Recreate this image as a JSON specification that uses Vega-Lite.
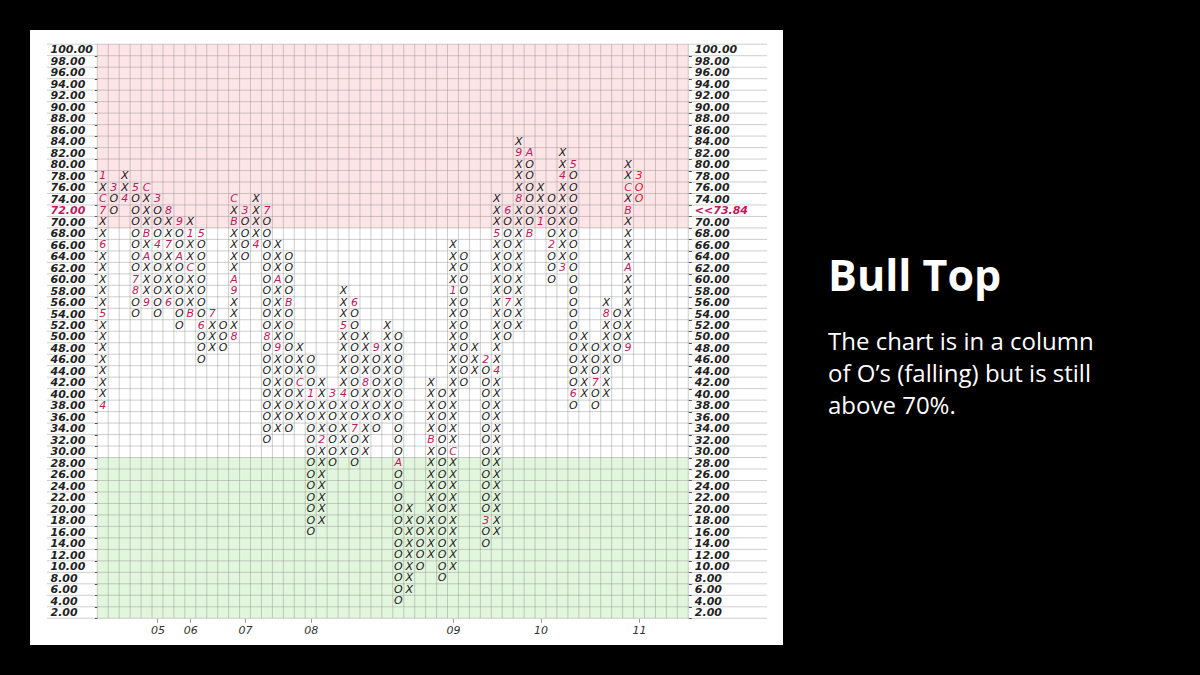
{
"$schema":"https://vega.github.io/schema/vega-lite/v6.json",
"width":753,"height":615,
"autosize":{"type":"none"},
"padding":{"left":30,"top":30,"right":417,"bottom":30},
"background":"black",
"config":{"view":{"fill":"white","stroke":null}},
"title":{"text":"Bull Top","subtitle":["The chart is in a column","of O’s (falling) but is still","above 70%."],"anchor":"start","frame":"group","orient":"top","offset":0,"dx":798,"dy":389,"baseline":"top","color":"white","font":"Open Sans","fontSize":43,"fontWeight":"bold","subtitleColor":"white","subtitleFont":"Open Sans","subtitleFontSize":24,"subtitleLineHeight":32,"subtitlePadding":31},
"datasets":{
"zones":[{"z":"bull","lo":69,"hi":101},{"z":"bear","lo":1,"hi":29}],
"hl":[{"b":1},{"b":3},{"b":5},{"b":7},{"b":9},{"b":11},{"b":13},{"b":15},{"b":17},{"b":19},{"b":21},{"b":23},{"b":25},{"b":27},{"b":29},{"b":31},{"b":33},{"b":35},{"b":37},{"b":39},{"b":41},{"b":43},{"b":45},{"b":47},{"b":49},{"b":51},{"b":53},{"b":55},{"b":57},{"b":59},{"b":61},{"b":63},{"b":65},{"b":67},{"b":69},{"b":71},{"b":73},{"b":75},{"b":77},{"b":79},{"b":81},{"b":83},{"b":85},{"b":87},{"b":89},{"b":91},{"b":93},{"b":95},{"b":97},{"b":99},{"b":101}],
"vl":[{"g":-0.5},{"g":0.5},{"g":1.5},{"g":2.5},{"g":3.5},{"g":4.5},{"g":5.5},{"g":6.5},{"g":7.5},{"g":8.5},{"g":9.5},{"g":10.5},{"g":11.5},{"g":12.5},{"g":13.5},{"g":14.5},{"g":15.5},{"g":16.5},{"g":17.5},{"g":18.5},{"g":19.5},{"g":20.5},{"g":21.5},{"g":22.5},{"g":23.5},{"g":24.5},{"g":25.5},{"g":26.5},{"g":27.5},{"g":28.5},{"g":29.5},{"g":30.5},{"g":31.5},{"g":32.5},{"g":33.5},{"g":34.5},{"g":35.5},{"g":36.5},{"g":37.5},{"g":38.5},{"g":39.5},{"g":40.5},{"g":41.5},{"g":42.5},{"g":43.5},{"g":44.5},{"g":45.5},{"g":46.5},{"g":47.5},{"g":48.5},{"g":49.5},{"g":50.5},{"g":51.5},{"g":52.5},{"g":53.5}],
"pf":[
{"c":0,"v":38,"s":"4"},{"c":0,"v":40,"s":"X"},{"c":0,"v":42,"s":"X"},{"c":0,"v":44,"s":"X"},{"c":0,"v":46,"s":"X"},{"c":0,"v":48,"s":"X"},{"c":0,"v":50,"s":"X"},{"c":0,"v":52,"s":"X"},{"c":0,"v":54,"s":"5"},{"c":0,"v":56,"s":"X"},{"c":0,"v":58,"s":"X"},{"c":0,"v":60,"s":"X"},{"c":0,"v":62,"s":"X"},{"c":0,"v":64,"s":"X"},{"c":0,"v":66,"s":"6"},{"c":0,"v":68,"s":"X"},{"c":0,"v":70,"s":"X"},{"c":0,"v":72,"s":"7"},{"c":0,"v":74,"s":"C"},{"c":0,"v":76,"s":"X"},{"c":0,"v":78,"s":"1"},
{"c":1,"v":72,"s":"O"},{"c":1,"v":74,"s":"O"},{"c":1,"v":76,"s":"3"},
{"c":2,"v":74,"s":"4"},{"c":2,"v":76,"s":"X"},{"c":2,"v":78,"s":"X"},
{"c":3,"v":54,"s":"O"},{"c":3,"v":56,"s":"O"},{"c":3,"v":58,"s":"8"},{"c":3,"v":60,"s":"7"},{"c":3,"v":62,"s":"O"},{"c":3,"v":64,"s":"O"},{"c":3,"v":66,"s":"O"},{"c":3,"v":68,"s":"O"},{"c":3,"v":70,"s":"O"},{"c":3,"v":72,"s":"O"},{"c":3,"v":74,"s":"O"},{"c":3,"v":76,"s":"5"},
{"c":4,"v":56,"s":"9"},{"c":4,"v":58,"s":"X"},{"c":4,"v":60,"s":"X"},{"c":4,"v":62,"s":"X"},{"c":4,"v":64,"s":"A"},{"c":4,"v":66,"s":"X"},{"c":4,"v":68,"s":"B"},{"c":4,"v":70,"s":"X"},{"c":4,"v":72,"s":"X"},{"c":4,"v":74,"s":"X"},{"c":4,"v":76,"s":"C"},
{"c":5,"v":54,"s":"O"},{"c":5,"v":56,"s":"O"},{"c":5,"v":58,"s":"O"},{"c":5,"v":60,"s":"O"},{"c":5,"v":62,"s":"O"},{"c":5,"v":64,"s":"O"},{"c":5,"v":66,"s":"4"},{"c":5,"v":68,"s":"O"},{"c":5,"v":70,"s":"O"},{"c":5,"v":72,"s":"O"},{"c":5,"v":74,"s":"3"},
{"c":6,"v":56,"s":"6"},{"c":6,"v":58,"s":"X"},{"c":6,"v":60,"s":"X"},{"c":6,"v":62,"s":"X"},{"c":6,"v":64,"s":"X"},{"c":6,"v":66,"s":"7"},{"c":6,"v":68,"s":"X"},{"c":6,"v":70,"s":"X"},{"c":6,"v":72,"s":"8"},
{"c":7,"v":52,"s":"O"},{"c":7,"v":54,"s":"O"},{"c":7,"v":56,"s":"O"},{"c":7,"v":58,"s":"O"},{"c":7,"v":60,"s":"O"},{"c":7,"v":62,"s":"O"},{"c":7,"v":64,"s":"A"},{"c":7,"v":66,"s":"O"},{"c":7,"v":68,"s":"O"},{"c":7,"v":70,"s":"9"},
{"c":8,"v":54,"s":"B"},{"c":8,"v":56,"s":"X"},{"c":8,"v":58,"s":"X"},{"c":8,"v":60,"s":"X"},{"c":8,"v":62,"s":"C"},{"c":8,"v":64,"s":"X"},{"c":8,"v":66,"s":"X"},{"c":8,"v":68,"s":"1"},{"c":8,"v":70,"s":"X"},
{"c":9,"v":46,"s":"O"},{"c":9,"v":48,"s":"O"},{"c":9,"v":50,"s":"O"},{"c":9,"v":52,"s":"6"},{"c":9,"v":54,"s":"O"},{"c":9,"v":56,"s":"O"},{"c":9,"v":58,"s":"O"},{"c":9,"v":60,"s":"O"},{"c":9,"v":62,"s":"O"},{"c":9,"v":64,"s":"O"},{"c":9,"v":66,"s":"O"},{"c":9,"v":68,"s":"5"},
{"c":10,"v":48,"s":"X"},{"c":10,"v":50,"s":"X"},{"c":10,"v":52,"s":"X"},{"c":10,"v":54,"s":"7"},
{"c":11,"v":48,"s":"O"},{"c":11,"v":50,"s":"O"},{"c":11,"v":52,"s":"O"},
{"c":12,"v":50,"s":"8"},{"c":12,"v":52,"s":"X"},{"c":12,"v":54,"s":"X"},{"c":12,"v":56,"s":"X"},{"c":12,"v":58,"s":"9"},{"c":12,"v":60,"s":"A"},{"c":12,"v":62,"s":"X"},{"c":12,"v":64,"s":"X"},{"c":12,"v":66,"s":"X"},{"c":12,"v":68,"s":"X"},{"c":12,"v":70,"s":"B"},{"c":12,"v":72,"s":"X"},{"c":12,"v":74,"s":"C"},
{"c":13,"v":64,"s":"O"},{"c":13,"v":66,"s":"O"},{"c":13,"v":68,"s":"O"},{"c":13,"v":70,"s":"O"},{"c":13,"v":72,"s":"3"},
{"c":14,"v":66,"s":"4"},{"c":14,"v":68,"s":"X"},{"c":14,"v":70,"s":"X"},{"c":14,"v":72,"s":"X"},{"c":14,"v":74,"s":"X"},
{"c":15,"v":32,"s":"O"},{"c":15,"v":34,"s":"O"},{"c":15,"v":36,"s":"O"},{"c":15,"v":38,"s":"O"},{"c":15,"v":40,"s":"O"},{"c":15,"v":42,"s":"O"},{"c":15,"v":44,"s":"O"},{"c":15,"v":46,"s":"O"},{"c":15,"v":48,"s":"O"},{"c":15,"v":50,"s":"8"},{"c":15,"v":52,"s":"O"},{"c":15,"v":54,"s":"O"},{"c":15,"v":56,"s":"O"},{"c":15,"v":58,"s":"O"},{"c":15,"v":60,"s":"O"},{"c":15,"v":62,"s":"O"},{"c":15,"v":64,"s":"O"},{"c":15,"v":66,"s":"O"},{"c":15,"v":68,"s":"O"},{"c":15,"v":70,"s":"O"},{"c":15,"v":72,"s":"7"},
{"c":16,"v":34,"s":"X"},{"c":16,"v":36,"s":"X"},{"c":16,"v":38,"s":"X"},{"c":16,"v":40,"s":"X"},{"c":16,"v":42,"s":"X"},{"c":16,"v":44,"s":"X"},{"c":16,"v":46,"s":"X"},{"c":16,"v":48,"s":"9"},{"c":16,"v":50,"s":"X"},{"c":16,"v":52,"s":"X"},{"c":16,"v":54,"s":"X"},{"c":16,"v":56,"s":"X"},{"c":16,"v":58,"s":"X"},{"c":16,"v":60,"s":"A"},{"c":16,"v":62,"s":"X"},{"c":16,"v":64,"s":"X"},{"c":16,"v":66,"s":"X"},
{"c":17,"v":34,"s":"O"},{"c":17,"v":36,"s":"O"},{"c":17,"v":38,"s":"O"},{"c":17,"v":40,"s":"O"},{"c":17,"v":42,"s":"O"},{"c":17,"v":44,"s":"O"},{"c":17,"v":46,"s":"O"},{"c":17,"v":48,"s":"O"},{"c":17,"v":50,"s":"O"},{"c":17,"v":52,"s":"O"},{"c":17,"v":54,"s":"O"},{"c":17,"v":56,"s":"B"},{"c":17,"v":58,"s":"O"},{"c":17,"v":60,"s":"O"},{"c":17,"v":62,"s":"O"},{"c":17,"v":64,"s":"O"},
{"c":18,"v":36,"s":"X"},{"c":18,"v":38,"s":"X"},{"c":18,"v":40,"s":"X"},{"c":18,"v":42,"s":"C"},{"c":18,"v":44,"s":"X"},{"c":18,"v":46,"s":"X"},{"c":18,"v":48,"s":"X"},
{"c":19,"v":16,"s":"O"},{"c":19,"v":18,"s":"O"},{"c":19,"v":20,"s":"O"},{"c":19,"v":22,"s":"O"},{"c":19,"v":24,"s":"O"},{"c":19,"v":26,"s":"O"},{"c":19,"v":28,"s":"O"},{"c":19,"v":30,"s":"O"},{"c":19,"v":32,"s":"O"},{"c":19,"v":34,"s":"O"},{"c":19,"v":36,"s":"O"},{"c":19,"v":38,"s":"O"},{"c":19,"v":40,"s":"1"},{"c":19,"v":42,"s":"O"},{"c":19,"v":44,"s":"O"},{"c":19,"v":46,"s":"O"},
{"c":20,"v":18,"s":"X"},{"c":20,"v":20,"s":"X"},{"c":20,"v":22,"s":"X"},{"c":20,"v":24,"s":"X"},{"c":20,"v":26,"s":"X"},{"c":20,"v":28,"s":"X"},{"c":20,"v":30,"s":"X"},{"c":20,"v":32,"s":"2"},{"c":20,"v":34,"s":"X"},{"c":20,"v":36,"s":"X"},{"c":20,"v":38,"s":"X"},{"c":20,"v":40,"s":"X"},{"c":20,"v":42,"s":"X"},
{"c":21,"v":28,"s":"O"},{"c":21,"v":30,"s":"O"},{"c":21,"v":32,"s":"O"},{"c":21,"v":34,"s":"O"},{"c":21,"v":36,"s":"O"},{"c":21,"v":38,"s":"O"},{"c":21,"v":40,"s":"3"},
{"c":22,"v":30,"s":"X"},{"c":22,"v":32,"s":"X"},{"c":22,"v":34,"s":"X"},{"c":22,"v":36,"s":"X"},{"c":22,"v":38,"s":"X"},{"c":22,"v":40,"s":"4"},{"c":22,"v":42,"s":"X"},{"c":22,"v":44,"s":"X"},{"c":22,"v":46,"s":"X"},{"c":22,"v":48,"s":"X"},{"c":22,"v":50,"s":"X"},{"c":22,"v":52,"s":"5"},{"c":22,"v":54,"s":"X"},{"c":22,"v":56,"s":"X"},{"c":22,"v":58,"s":"X"},
{"c":23,"v":28,"s":"O"},{"c":23,"v":30,"s":"O"},{"c":23,"v":32,"s":"O"},{"c":23,"v":34,"s":"7"},{"c":23,"v":36,"s":"O"},{"c":23,"v":38,"s":"O"},{"c":23,"v":40,"s":"O"},{"c":23,"v":42,"s":"O"},{"c":23,"v":44,"s":"O"},{"c":23,"v":46,"s":"O"},{"c":23,"v":48,"s":"O"},{"c":23,"v":50,"s":"O"},{"c":23,"v":52,"s":"O"},{"c":23,"v":54,"s":"O"},{"c":23,"v":56,"s":"6"},
{"c":24,"v":30,"s":"X"},{"c":24,"v":32,"s":"X"},{"c":24,"v":34,"s":"X"},{"c":24,"v":36,"s":"X"},{"c":24,"v":38,"s":"X"},{"c":24,"v":40,"s":"X"},{"c":24,"v":42,"s":"8"},{"c":24,"v":44,"s":"X"},{"c":24,"v":46,"s":"X"},{"c":24,"v":48,"s":"X"},{"c":24,"v":50,"s":"X"},
{"c":25,"v":34,"s":"O"},{"c":25,"v":36,"s":"O"},{"c":25,"v":38,"s":"O"},{"c":25,"v":40,"s":"O"},{"c":25,"v":42,"s":"O"},{"c":25,"v":44,"s":"O"},{"c":25,"v":46,"s":"O"},{"c":25,"v":48,"s":"9"},
{"c":26,"v":36,"s":"X"},{"c":26,"v":38,"s":"X"},{"c":26,"v":40,"s":"X"},{"c":26,"v":42,"s":"X"},{"c":26,"v":44,"s":"X"},{"c":26,"v":46,"s":"X"},{"c":26,"v":48,"s":"X"},{"c":26,"v":50,"s":"X"},{"c":26,"v":52,"s":"X"},
{"c":27,"v":4,"s":"O"},{"c":27,"v":6,"s":"O"},{"c":27,"v":8,"s":"O"},{"c":27,"v":10,"s":"O"},{"c":27,"v":12,"s":"O"},{"c":27,"v":14,"s":"O"},{"c":27,"v":16,"s":"O"},{"c":27,"v":18,"s":"O"},{"c":27,"v":20,"s":"O"},{"c":27,"v":22,"s":"O"},{"c":27,"v":24,"s":"O"},{"c":27,"v":26,"s":"O"},{"c":27,"v":28,"s":"A"},{"c":27,"v":30,"s":"O"},{"c":27,"v":32,"s":"O"},{"c":27,"v":34,"s":"O"},{"c":27,"v":36,"s":"O"},{"c":27,"v":38,"s":"O"},{"c":27,"v":40,"s":"O"},{"c":27,"v":42,"s":"O"},{"c":27,"v":44,"s":"O"},{"c":27,"v":46,"s":"O"},{"c":27,"v":48,"s":"O"},{"c":27,"v":50,"s":"O"},
{"c":28,"v":6,"s":"X"},{"c":28,"v":8,"s":"X"},{"c":28,"v":10,"s":"X"},{"c":28,"v":12,"s":"X"},{"c":28,"v":14,"s":"X"},{"c":28,"v":16,"s":"X"},{"c":28,"v":18,"s":"X"},{"c":28,"v":20,"s":"X"},
{"c":29,"v":10,"s":"O"},{"c":29,"v":12,"s":"O"},{"c":29,"v":14,"s":"O"},{"c":29,"v":16,"s":"O"},{"c":29,"v":18,"s":"O"},
{"c":30,"v":12,"s":"X"},{"c":30,"v":14,"s":"X"},{"c":30,"v":16,"s":"X"},{"c":30,"v":18,"s":"X"},{"c":30,"v":20,"s":"X"},{"c":30,"v":22,"s":"X"},{"c":30,"v":24,"s":"X"},{"c":30,"v":26,"s":"X"},{"c":30,"v":28,"s":"X"},{"c":30,"v":30,"s":"X"},{"c":30,"v":32,"s":"B"},{"c":30,"v":34,"s":"X"},{"c":30,"v":36,"s":"X"},{"c":30,"v":38,"s":"X"},{"c":30,"v":40,"s":"X"},{"c":30,"v":42,"s":"X"},
{"c":31,"v":8,"s":"O"},{"c":31,"v":10,"s":"O"},{"c":31,"v":12,"s":"O"},{"c":31,"v":14,"s":"O"},{"c":31,"v":16,"s":"O"},{"c":31,"v":18,"s":"O"},{"c":31,"v":20,"s":"O"},{"c":31,"v":22,"s":"O"},{"c":31,"v":24,"s":"O"},{"c":31,"v":26,"s":"O"},{"c":31,"v":28,"s":"O"},{"c":31,"v":30,"s":"O"},{"c":31,"v":32,"s":"O"},{"c":31,"v":34,"s":"O"},{"c":31,"v":36,"s":"O"},{"c":31,"v":38,"s":"O"},{"c":31,"v":40,"s":"O"},
{"c":32,"v":10,"s":"X"},{"c":32,"v":12,"s":"X"},{"c":32,"v":14,"s":"X"},{"c":32,"v":16,"s":"X"},{"c":32,"v":18,"s":"X"},{"c":32,"v":20,"s":"X"},{"c":32,"v":22,"s":"X"},{"c":32,"v":24,"s":"X"},{"c":32,"v":26,"s":"X"},{"c":32,"v":28,"s":"X"},{"c":32,"v":30,"s":"C"},{"c":32,"v":32,"s":"X"},{"c":32,"v":34,"s":"X"},{"c":32,"v":36,"s":"X"},{"c":32,"v":38,"s":"X"},{"c":32,"v":40,"s":"X"},{"c":32,"v":42,"s":"X"},{"c":32,"v":44,"s":"X"},{"c":32,"v":46,"s":"X"},{"c":32,"v":48,"s":"X"},{"c":32,"v":50,"s":"X"},{"c":32,"v":52,"s":"X"},{"c":32,"v":54,"s":"X"},{"c":32,"v":56,"s":"X"},{"c":32,"v":58,"s":"1"},{"c":32,"v":60,"s":"X"},{"c":32,"v":62,"s":"X"},{"c":32,"v":64,"s":"X"},{"c":32,"v":66,"s":"X"},
{"c":33,"v":42,"s":"O"},{"c":33,"v":44,"s":"O"},{"c":33,"v":46,"s":"O"},{"c":33,"v":48,"s":"O"},{"c":33,"v":50,"s":"O"},{"c":33,"v":52,"s":"O"},{"c":33,"v":54,"s":"O"},{"c":33,"v":56,"s":"O"},{"c":33,"v":58,"s":"O"},{"c":33,"v":60,"s":"O"},{"c":33,"v":62,"s":"O"},{"c":33,"v":64,"s":"O"},
{"c":34,"v":44,"s":"X"},{"c":34,"v":46,"s":"X"},{"c":34,"v":48,"s":"X"},
{"c":35,"v":14,"s":"O"},{"c":35,"v":16,"s":"O"},{"c":35,"v":18,"s":"3"},{"c":35,"v":20,"s":"O"},{"c":35,"v":22,"s":"O"},{"c":35,"v":24,"s":"O"},{"c":35,"v":26,"s":"O"},{"c":35,"v":28,"s":"O"},{"c":35,"v":30,"s":"O"},{"c":35,"v":32,"s":"O"},{"c":35,"v":34,"s":"O"},{"c":35,"v":36,"s":"O"},{"c":35,"v":38,"s":"O"},{"c":35,"v":40,"s":"O"},{"c":35,"v":42,"s":"O"},{"c":35,"v":44,"s":"O"},{"c":35,"v":46,"s":"2"},
{"c":36,"v":16,"s":"X"},{"c":36,"v":18,"s":"X"},{"c":36,"v":20,"s":"X"},{"c":36,"v":22,"s":"X"},{"c":36,"v":24,"s":"X"},{"c":36,"v":26,"s":"X"},{"c":36,"v":28,"s":"X"},{"c":36,"v":30,"s":"X"},{"c":36,"v":32,"s":"X"},{"c":36,"v":34,"s":"X"},{"c":36,"v":36,"s":"X"},{"c":36,"v":38,"s":"X"},{"c":36,"v":40,"s":"X"},{"c":36,"v":42,"s":"X"},{"c":36,"v":44,"s":"4"},{"c":36,"v":46,"s":"X"},{"c":36,"v":48,"s":"X"},{"c":36,"v":50,"s":"X"},{"c":36,"v":52,"s":"X"},{"c":36,"v":54,"s":"X"},{"c":36,"v":56,"s":"X"},{"c":36,"v":58,"s":"X"},{"c":36,"v":60,"s":"X"},{"c":36,"v":62,"s":"X"},{"c":36,"v":64,"s":"X"},{"c":36,"v":66,"s":"X"},{"c":36,"v":68,"s":"5"},{"c":36,"v":70,"s":"X"},{"c":36,"v":72,"s":"X"},{"c":36,"v":74,"s":"X"},
{"c":37,"v":50,"s":"O"},{"c":37,"v":52,"s":"O"},{"c":37,"v":54,"s":"O"},{"c":37,"v":56,"s":"7"},{"c":37,"v":58,"s":"O"},{"c":37,"v":60,"s":"O"},{"c":37,"v":62,"s":"O"},{"c":37,"v":64,"s":"O"},{"c":37,"v":66,"s":"O"},{"c":37,"v":68,"s":"O"},{"c":37,"v":70,"s":"O"},{"c":37,"v":72,"s":"6"},
{"c":38,"v":52,"s":"X"},{"c":38,"v":54,"s":"X"},{"c":38,"v":56,"s":"X"},{"c":38,"v":58,"s":"X"},{"c":38,"v":60,"s":"X"},{"c":38,"v":62,"s":"X"},{"c":38,"v":64,"s":"X"},{"c":38,"v":66,"s":"X"},{"c":38,"v":68,"s":"X"},{"c":38,"v":70,"s":"X"},{"c":38,"v":72,"s":"X"},{"c":38,"v":74,"s":"8"},{"c":38,"v":76,"s":"X"},{"c":38,"v":78,"s":"X"},{"c":38,"v":80,"s":"X"},{"c":38,"v":82,"s":"9"},{"c":38,"v":84,"s":"X"},
{"c":39,"v":68,"s":"B"},{"c":39,"v":70,"s":"O"},{"c":39,"v":72,"s":"O"},{"c":39,"v":74,"s":"O"},{"c":39,"v":76,"s":"O"},{"c":39,"v":78,"s":"O"},{"c":39,"v":80,"s":"O"},{"c":39,"v":82,"s":"A"},
{"c":40,"v":70,"s":"1"},{"c":40,"v":72,"s":"X"},{"c":40,"v":74,"s":"X"},{"c":40,"v":76,"s":"X"},
{"c":41,"v":60,"s":"O"},{"c":41,"v":62,"s":"O"},{"c":41,"v":64,"s":"O"},{"c":41,"v":66,"s":"2"},{"c":41,"v":68,"s":"O"},{"c":41,"v":70,"s":"O"},{"c":41,"v":72,"s":"O"},{"c":41,"v":74,"s":"O"},
{"c":42,"v":62,"s":"3"},{"c":42,"v":64,"s":"X"},{"c":42,"v":66,"s":"X"},{"c":42,"v":68,"s":"X"},{"c":42,"v":70,"s":"X"},{"c":42,"v":72,"s":"X"},{"c":42,"v":74,"s":"X"},{"c":42,"v":76,"s":"X"},{"c":42,"v":78,"s":"4"},{"c":42,"v":80,"s":"X"},{"c":42,"v":82,"s":"X"},
{"c":43,"v":38,"s":"O"},{"c":43,"v":40,"s":"6"},{"c":43,"v":42,"s":"O"},{"c":43,"v":44,"s":"O"},{"c":43,"v":46,"s":"O"},{"c":43,"v":48,"s":"O"},{"c":43,"v":50,"s":"O"},{"c":43,"v":52,"s":"O"},{"c":43,"v":54,"s":"O"},{"c":43,"v":56,"s":"O"},{"c":43,"v":58,"s":"O"},{"c":43,"v":60,"s":"O"},{"c":43,"v":62,"s":"O"},{"c":43,"v":64,"s":"O"},{"c":43,"v":66,"s":"O"},{"c":43,"v":68,"s":"O"},{"c":43,"v":70,"s":"O"},{"c":43,"v":72,"s":"O"},{"c":43,"v":74,"s":"O"},{"c":43,"v":76,"s":"O"},{"c":43,"v":78,"s":"O"},{"c":43,"v":80,"s":"5"},
{"c":44,"v":40,"s":"X"},{"c":44,"v":42,"s":"X"},{"c":44,"v":44,"s":"X"},{"c":44,"v":46,"s":"X"},{"c":44,"v":48,"s":"X"},{"c":44,"v":50,"s":"X"},
{"c":45,"v":38,"s":"O"},{"c":45,"v":40,"s":"O"},{"c":45,"v":42,"s":"7"},{"c":45,"v":44,"s":"O"},{"c":45,"v":46,"s":"O"},{"c":45,"v":48,"s":"O"},
{"c":46,"v":40,"s":"X"},{"c":46,"v":42,"s":"X"},{"c":46,"v":44,"s":"X"},{"c":46,"v":46,"s":"X"},{"c":46,"v":48,"s":"X"},{"c":46,"v":50,"s":"X"},{"c":46,"v":52,"s":"X"},{"c":46,"v":54,"s":"8"},{"c":46,"v":56,"s":"X"},
{"c":47,"v":46,"s":"O"},{"c":47,"v":48,"s":"O"},{"c":47,"v":50,"s":"O"},{"c":47,"v":52,"s":"O"},{"c":47,"v":54,"s":"O"},
{"c":48,"v":48,"s":"9"},{"c":48,"v":50,"s":"X"},{"c":48,"v":52,"s":"X"},{"c":48,"v":54,"s":"X"},{"c":48,"v":56,"s":"X"},{"c":48,"v":58,"s":"X"},{"c":48,"v":60,"s":"X"},{"c":48,"v":62,"s":"A"},{"c":48,"v":64,"s":"X"},{"c":48,"v":66,"s":"X"},{"c":48,"v":68,"s":"X"},{"c":48,"v":70,"s":"X"},{"c":48,"v":72,"s":"B"},{"c":48,"v":74,"s":"X"},{"c":48,"v":76,"s":"C"},{"c":48,"v":78,"s":"X"},{"c":48,"v":80,"s":"X"},
{"c":49,"v":74,"s":"O"},{"c":49,"v":76,"s":"O"},{"c":49,"v":78,"s":"3"}
]},
"resolve":{"axis":{"x":"independent","y":"independent"}},
"layer":[
{"data":{"name":"zones"},"mark":{"type":"rect"},
 "encoding":{
  "x":{"datum":-0.5,"type":"quantitative","scale":{"domain":[-6.649,62.155],"nice":false,"zero":false},"axis":null},
  "x2":{"datum":53.5},
  "y":{"field":"lo","type":"quantitative","scale":{"domain":[-3.66,103.48],"nice":false,"zero":false},"axis":null},
  "y2":{"field":"hi"},
  "color":{"field":"z","type":"nominal","scale":{"domain":["bull","bear"],"range":["#fde4e7","#e2f6dd"]},"legend":null}}},
{"data":{"name":"hl"},"mark":{"type":"rule","stroke":"#8a8a8a","strokeOpacity":0.42,"strokeWidth":1},
 "encoding":{
  "x":{"datum":-5.1,"type":"quantitative","scale":{"domain":[-6.649,62.155],"nice":false,"zero":false},"axis":null},
  "x2":{"datum":60.7},
  "y":{"field":"b","type":"quantitative","scale":{"domain":[-3.66,103.48],"nice":false,"zero":false},
   "axis":{"orient":"right","offset":-94.7,"title":null,"domain":false,"grid":false,"values":[2,4,6,8,10,12,14,16,18,20,22,24,26,28,30,32,34,36,38,40,42,44,46,48,50,52,54,56,58,60,62,64,66,68,70,72,74,76,78,80,82,84,86,88,90,92,94,96,98,100],
   "tickSize":3,"tickColor":"#444","tickOffset":5.74,"labelOffset":-5.74,"labelPadding":3,"labelAlign":"left","labelBaseline":"middle","labelOverlap":false,
   "labelFont":"DejaVu Sans","labelFontSize":11,"labelFontStyle":"italic","labelFontWeight":"bold",
   "labelExpr":"datum.value == 72 ? '<<73.84' : format(datum.value, '.2f')",
   "labelColor":{"condition":{"test":"datum.value == 72","value":"#c2185b"},"value":"#222"}}}}},
{"data":{"name":"vl"},"mark":{"type":"rule","stroke":"#8a8a8a","strokeOpacity":0.42,"strokeWidth":1},
 "encoding":{
  "x":{"field":"g","type":"quantitative","scale":{"domain":[-6.649,62.155],"nice":false,"zero":false},"axis":null},
  "y":{"datum":1,"type":"quantitative","scale":{"domain":[-3.66,103.48],"nice":false,"zero":false},"axis":null},
  "y2":{"datum":101}}},
{"data":{"name":"pf"},"mark":{"type":"text","font":"DejaVu Sans","fontStyle":"italic","fontSize":11,"baseline":"middle","align":"center"},
 "encoding":{
  "x":{"field":"c","type":"quantitative","scale":{"domain":[-6.649,62.155],"nice":false,"zero":false},
   "axis":{"orient":"bottom","offset":-26.7,"title":null,"domain":false,"grid":false,"values":[5,8,13,19,32,40,49],
    "tickSize":4,"tickColor":"#999","labelPadding":2,"labelFlush":false,"labelOverlap":false,
    "labelFont":"DejaVu Sans","labelFontSize":11,"labelFontStyle":"italic","labelColor":"#333",
    "labelExpr":"datum.value==5?'05':datum.value==8?'06':datum.value==13?'07':datum.value==19?'08':datum.value==32?'09':datum.value==40?'10':'11'"}},
  "y":{"field":"v","type":"quantitative","scale":{"domain":[-3.66,103.48],"nice":false,"zero":false},
   "axis":{"orient":"left","offset":-67.3,"title":null,"domain":false,"grid":false,"values":[2,4,6,8,10,12,14,16,18,20,22,24,26,28,30,32,34,36,38,40,42,44,46,48,50,52,54,56,58,60,62,64,66,68,70,72,74,76,78,80,82,84,86,88,90,92,94,96,98,100],
   "tickSize":3,"tickColor":"#444","tickOffset":5.74,"labelOffset":-5.74,"labelPadding":44.3,"labelAlign":"left","labelBaseline":"middle","labelOverlap":false,
   "labelFont":"DejaVu Sans","labelFontSize":11,"labelFontStyle":"italic","labelFontWeight":"bold",
   "labelExpr":"format(datum.value, '.2f')",
   "labelColor":{"condition":{"test":"datum.value == 72","value":"#c2185b"},"value":"#222"}}},
  "text":{"field":"s","type":"nominal"},
  "color":{"condition":[{"test":"datum.c==49","value":"#e8102a"},{"test":"datum.s=='X'||datum.s=='O'","value":"#1a1a1a"}],"value":"#c2185b"}}}
]
}
